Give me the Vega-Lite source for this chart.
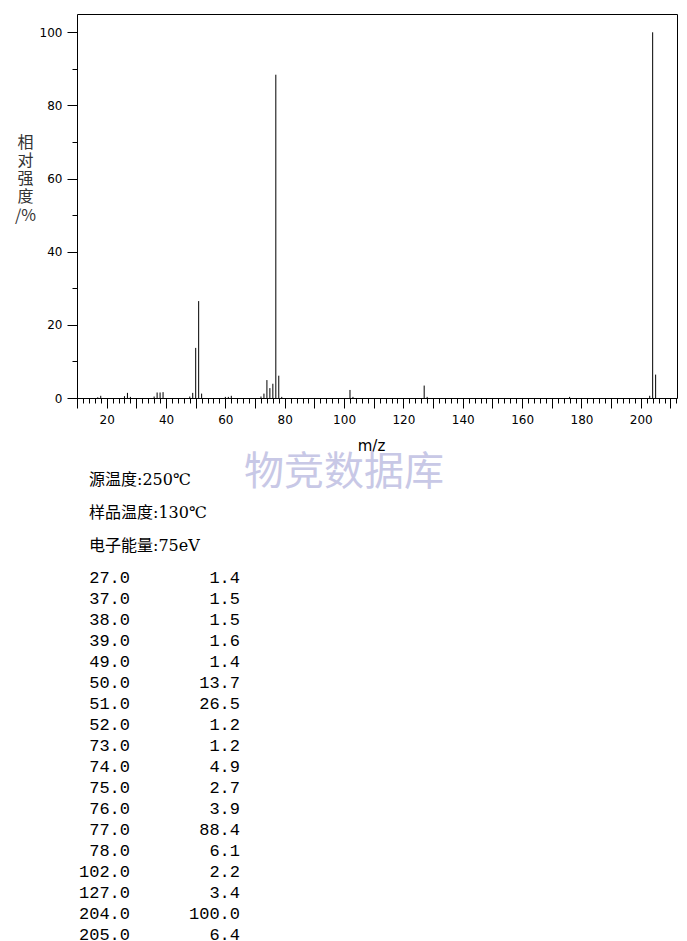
{
  "$schema": "https://vega.github.io/schema/vega-lite/v6.json",
  "padding": {"left": 13, "top": 13, "right": 5, "bottom": 5},
  "background": "white",
  "bounds": "flush",
  "spacing": 4,
  "resolve": {"scale": {"x": "independent", "y": "independent"}},
  "config": {
    "view": {"stroke": null},
    "axis": {
      "labelFont": "DejaVu Sans",
      "labelFontSize": 12,
      "labelColor": "#000",
      "tickColor": "#000",
      "tickWidth": 1,
      "domain": false,
      "grid": false,
      "titleColor": "#000",
      "titleFontWeight": "normal",
      "labelOverlap": false,
      "labelFlush": false
    }
  },
  "datasets": {
    "peaks": [
      {"mz": 17, "intensity": 0.2},
      {"mz": 18, "intensity": 0.6},
      {"mz": 26, "intensity": 0.5},
      {"mz": 27, "intensity": 1.4},
      {"mz": 28, "intensity": 0.3},
      {"mz": 36, "intensity": 0.4},
      {"mz": 37, "intensity": 1.5},
      {"mz": 38, "intensity": 1.5},
      {"mz": 39, "intensity": 1.6},
      {"mz": 48, "intensity": 0.4},
      {"mz": 49, "intensity": 1.4},
      {"mz": 50, "intensity": 13.7},
      {"mz": 51, "intensity": 26.5},
      {"mz": 52, "intensity": 1.2},
      {"mz": 60, "intensity": 0.3},
      {"mz": 61, "intensity": 0.3},
      {"mz": 62, "intensity": 0.6},
      {"mz": 72, "intensity": 0.4},
      {"mz": 73, "intensity": 1.2},
      {"mz": 74, "intensity": 4.9},
      {"mz": 75, "intensity": 2.7},
      {"mz": 76, "intensity": 3.9},
      {"mz": 77, "intensity": 88.4},
      {"mz": 78, "intensity": 6.1},
      {"mz": 79, "intensity": 0.3},
      {"mz": 102, "intensity": 2.2},
      {"mz": 103, "intensity": 0.3},
      {"mz": 127, "intensity": 3.4},
      {"mz": 128, "intensity": 0.3},
      {"mz": 176, "intensity": 0.3},
      {"mz": 203, "intensity": 0.6},
      {"mz": 204, "intensity": 100.0},
      {"mz": 205, "intensity": 6.4}
    ],
    "meta": [
      {"label": "源温度:250℃"},
      {"label": "样品温度:130℃"},
      {"label": "电子能量:75eV"}
    ],
    "wm": [{"text": "物竞数据库"}]
  },
  "vconcat": [
    {
      "width": 600,
      "height": 384,
      "view": {"stroke": "#000", "strokeWidth": 1},
      "resolve": {"axis": {"x": "independent", "y": "independent"}},
      "layer": [
        {
          "data": {"name": "peaks"},
          "mark": {"type": "rule", "color": "#000", "strokeWidth": 1},
          "encoding": {
            "x": {
              "field": "mz", "type": "quantitative",
              "scale": {"domain": [10, 212.2], "nice": false, "zero": false},
              "axis": {
                "orient": "bottom", "title": null, "labels": false, "tickSize": 5,
                "values": [10,12,14,16,18,20,22,24,26,28,30,32,34,36,38,40,42,44,46,48,50,52,54,56,58,60,62,64,66,68,70,72,74,76,78,80,82,84,86,88,90,92,94,96,98,100,102,104,106,108,110,112,114,116,118,120,122,124,126,128,130,132,134,136,138,140,142,144,146,148,150,152,154,156,158,160,162,164,166,168,170,172,174,176,178,180,182,184,186,188,190,192,194,196,198,200,202,204,206,208,210,212]
              }
            },
            "y": {
              "field": "intensity", "type": "quantitative",
              "scale": {"domain": [0, 105], "nice": false},
              "axis": {"orient": "left", "title": null, "labels": false, "tickSize": 5, "values": [0,10,20,30,40,50,60,70,80,90,100]}
            },
            "y2": {"datum": 0}
          }
        },
        {
          "data": {"name": "wm"},
          "mark": {"type": "text", "font": "Noto Sans CJK SC", "fontSize": 40, "color": "#c8c8e6", "align": "center", "baseline": "middle"},
          "encoding": {
            "x": {
              "datum": 100, "type": "quantitative",
              "scale": {"domain": [10, 212.2], "nice": false, "zero": false},
              "axis": {
                "orient": "bottom", "tickSize": 10, "labelPadding": 6,
                "values": [10,20,30,40,50,60,70,80,90,100,110,120,130,140,150,160,170,180,190,200,210],
                "labelExpr": "datum.value % 20 === 0 ? datum.label : ''",
                "title": "m/z", "titleFont": "DejaVu Sans", "titleFontSize": 15, "titlePadding": 13, "titleX": 294
              }
            },
            "y": {
              "datum": -20.5, "type": "quantitative",
              "scale": {"domain": [0, 105], "nice": false},
              "axis": {
                "orient": "left", "tickSize": 10, "labelPadding": 5,
                "values": [0,20,40,60,80,100],
                "title": ["相","对","强","度","/%"],
                "titleAngle": 0, "titleAlign": "center", "titleBaseline": "top",
                "titleX": -52, "titleY": 120,
                "titleFont": "Noto Sans CJK SC", "titleFontSize": 16, "titleLineHeight": 18.3, "titleColor": "#333"
              }
            },
            "text": {"field": "text"}
          }
        }
      ]
    },
    {
      "width": 24,
      "height": 161,
      "data": {"name": "meta"},
      "mark": {"type": "text", "align": "left", "baseline": "middle", "font": "DejaVu Serif, Noto Sans CJK SC", "fontSize": 16, "color": "#000"},
      "encoding": {
        "y": {"field": "label", "type": "nominal", "sort": null, "axis": null,
              "scale": {"type": "band", "paddingInner": 0, "paddingOuter": 0.939, "align": 1}},
        "text": {"field": "label"}
      }
    },
    {
      "width": 216,
      "height": 378,
      "data": {"name": "peaks"},
      "transform": [
        {"filter": "datum.intensity >= 1"},
        {"fold": ["mz", "intensity"], "as": ["key", "value"]}
      ],
      "mark": {"type": "text", "align": "right", "baseline": "middle", "font": "Liberation Mono", "fontSize": 17, "color": "#000"},
      "encoding": {
        "x": {"field": "key", "type": "nominal", "axis": null,
              "scale": {"type": "point", "domain": ["mz", "intensity"], "padding": 0.4818}},
        "y": {"field": "mz", "type": "ordinal", "axis": null,
              "scale": {"type": "band", "paddingInner": 0, "paddingOuter": 0}},
        "text": {"field": "value", "type": "quantitative", "format": ".1f"}
      }
    }
  ]
}
